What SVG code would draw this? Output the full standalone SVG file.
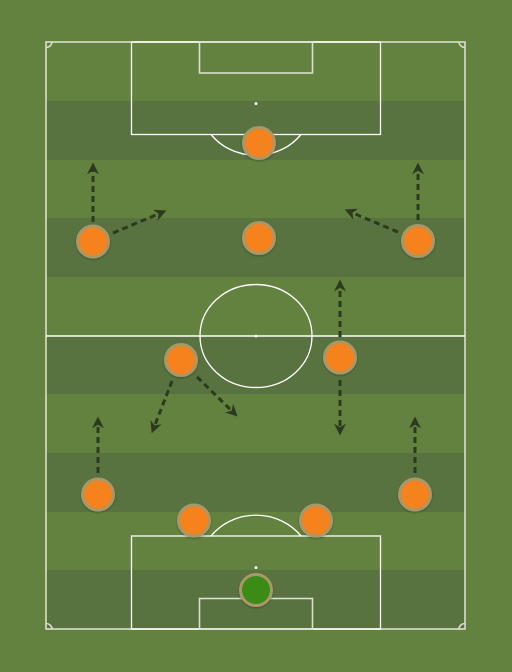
<svg xmlns="http://www.w3.org/2000/svg" width="512" height="672" viewBox="0 0 512 672">
<style>
.band{fill:#587340}
.ln{fill:none;stroke:#ffffff;stroke-width:1.3}
.lo{fill:none;stroke:#d9dfcc;stroke-width:1.6}
.spot{fill:#ffffff}
.mv{fill:none;stroke:#2c3a1f;stroke-width:3;stroke-dasharray:6 4;marker-end:url(#ah)}
.pl{fill:#f5821f;stroke:#a89868;stroke-width:3}
.gk{fill:#3b8c18;stroke:#a89868;stroke-width:3}
</style>
<defs>
<marker id="ah" viewBox="0 0 10 10" refX="7" refY="5" markerWidth="4" markerHeight="4" orient="auto" markerUnits="strokeWidth">
<path d="M0,0 L10,5 L0,10 L3,5 Z" fill="#2c3a1f"/>
</marker>
<filter id="sh" x="-30%" y="-30%" width="160%" height="160%">
<feDropShadow dx="0" dy="1" stdDeviation="1" flood-color="#000" flood-opacity="0.3"/>
</filter>
</defs>
<rect width="512" height="672" fill="#63823f"/>
<g id="pitch">
<rect class="band" x="46" y="101" width="419" height="59"/>
<rect class="band" x="46" y="218" width="419" height="59"/>
<rect class="band" x="46" y="336" width="419" height="58"/>
<rect class="band" x="46" y="453" width="419" height="59"/>
<rect class="band" x="46" y="570" width="419" height="59"/>
<rect class="lo" x="46" y="42" width="419" height="587"/>
<line class="ln" x1="46" y1="336" x2="465" y2="336"/>
<ellipse class="ln" cx="256" cy="336" rx="56" ry="51.5"/>
<circle class="spot" cx="256" cy="336" r="1.5"/>
<rect class="ln" x="131.5" y="42" width="249" height="92.5"/>
<rect class="lo" x="199.5" y="42" width="113" height="31"/>
<circle class="spot" cx="256" cy="103.5" r="1.5"/>
<path class="ln" d="M211 134.5 A56 51.5 0 0 0 301 134.5"/>
<rect class="ln" x="131.5" y="536" width="249" height="93"/>
<rect class="lo" x="199.5" y="598.5" width="113" height="30.5"/>
<circle class="spot" cx="256" cy="567.5" r="1.5"/>
<path class="ln" d="M211 536 A56 51.5 0 0 1 301 536"/>
<path class="lo" d="M46 47.5 A6 5.5 0 0 0 52 42"/>
<path class="lo" d="M459 42 A6 5.5 0 0 0 465 47.5"/>
<path class="lo" d="M46 623.5 A6 5.5 0 0 1 52 629"/>
<path class="lo" d="M459 629 A6 5.5 0 0 1 465 623.5"/>
</g>
<g id="connectors">
<line class="mv" x1="93" y1="222" x2="93" y2="166"/>
<line class="mv" x1="113" y1="233" x2="163" y2="212"/>
<line class="mv" x1="398" y1="232" x2="348" y2="211"/>
<line class="mv" x1="418" y1="220" x2="418" y2="166"/>
<line class="mv" x1="340" y1="337" x2="340" y2="283"/>
<line class="mv" x1="340" y1="380" x2="340" y2="432"/>
<line class="mv" x1="172" y1="381" x2="153" y2="430"/>
<line class="mv" x1="197" y1="377" x2="235" y2="414"/>
<line class="mv" x1="98" y1="473" x2="98" y2="420"/>
<line class="mv" x1="415" y1="473" x2="415" y2="420"/>
</g>
<g id="p1" filter="url(#sh)"><circle class="pl" cx="259" cy="143" r="15.5"/></g>
<g id="p2" filter="url(#sh)"><circle class="pl" cx="93" cy="241.5" r="15.5"/></g>
<g id="p3" filter="url(#sh)"><circle class="pl" cx="259" cy="238" r="15.5"/></g>
<g id="p4" filter="url(#sh)"><circle class="pl" cx="418" cy="241" r="15.5"/></g>
<g id="p5" filter="url(#sh)"><circle class="pl" cx="181" cy="360" r="15.5"/></g>
<g id="p6" filter="url(#sh)"><circle class="pl" cx="340" cy="357.5" r="15.5"/></g>
<g id="p7" filter="url(#sh)"><circle class="pl" cx="98" cy="494.5" r="15.5"/></g>
<g id="p8" filter="url(#sh)"><circle class="pl" cx="415" cy="494.5" r="15.5"/></g>
<g id="p9" filter="url(#sh)"><circle class="pl" cx="194" cy="520.5" r="15.5"/></g>
<g id="p10" filter="url(#sh)"><circle class="pl" cx="316" cy="520.5" r="15.5"/></g>
<g id="gk" filter="url(#sh)"><circle class="gk" cx="256" cy="590" r="15.5"/></g>
</svg>
